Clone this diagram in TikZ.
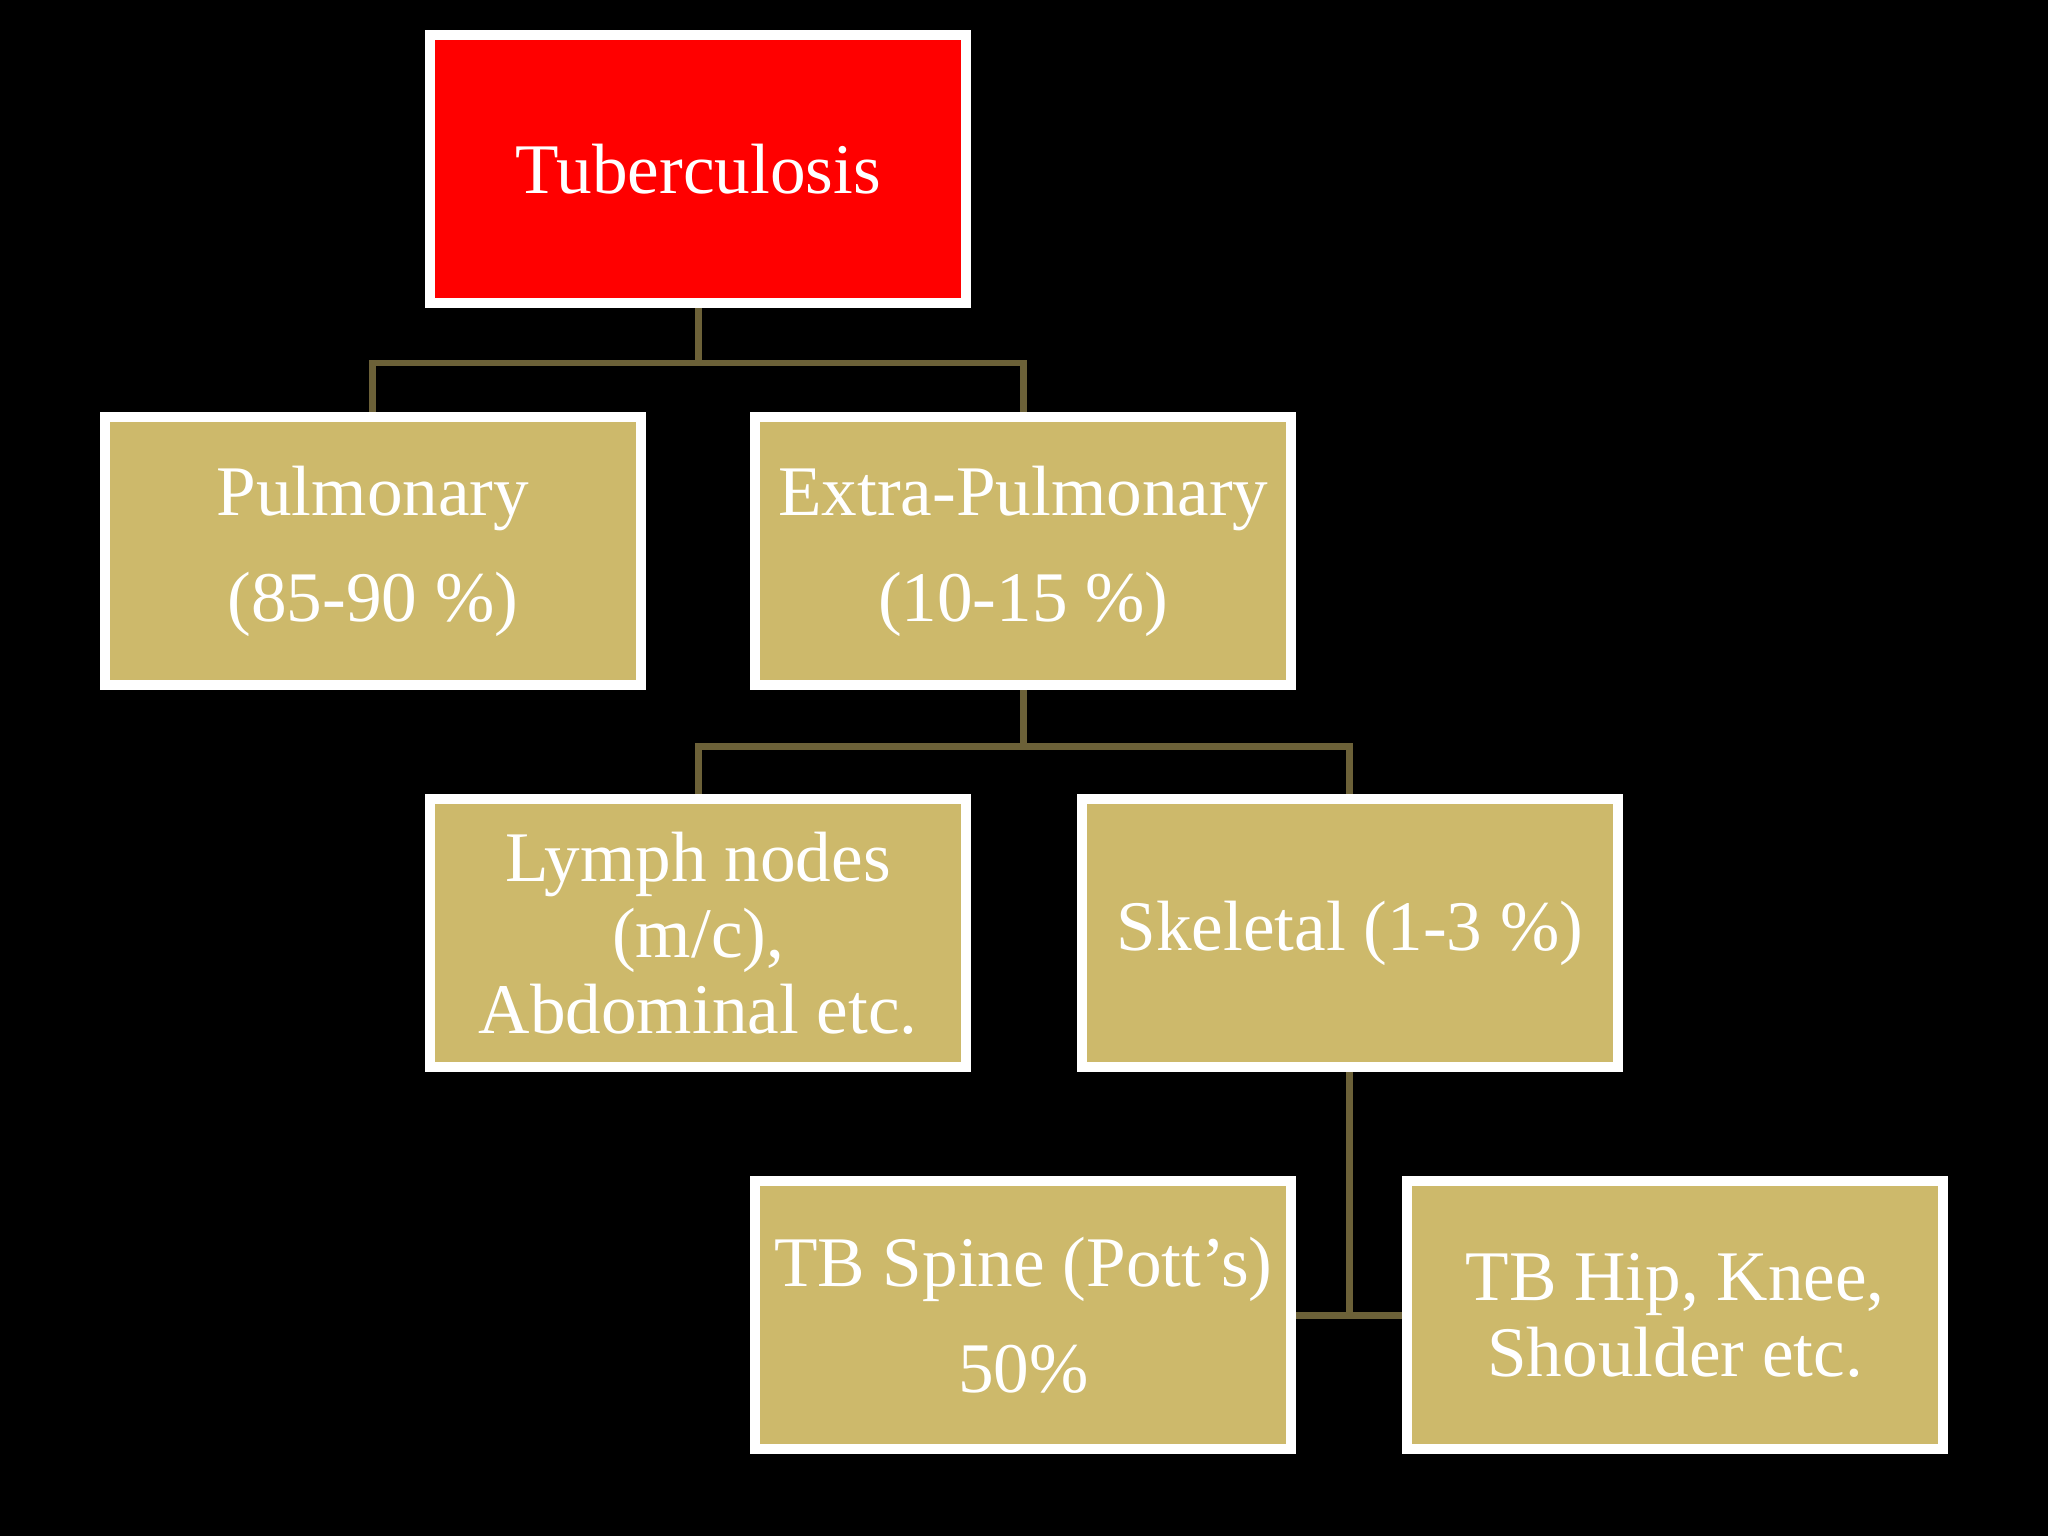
\documentclass[tikz,border=0pt]{standalone}
\usepackage{fontspec}
\setmainfont{Liberation Serif}
\begin{document}
\begin{tikzpicture}[x=0.01cm,y=-0.01cm,
 box/.style={draw=white,line width=2.2pt,fill=gold,minimum width=4.1cm,minimum height=2.05cm,inner sep=0pt,text=white,align=center,font=\fontsize{15.5pt}{23pt}\selectfont},
 tight/.style={font=\fontsize{15.5pt}{16.5pt}\selectfont},
 conn/.style={draw=olive!70!black,line width=1.5pt}]
\definecolor{gold}{HTML}{CDB96B}
\colorlet{olive}{gold!75!black}
\fill[black] (0,0) rectangle (1568,1176);
\useasboundingbox (0,0) rectangle (1568,1176);
\node[box,fill=red] (tb) at (534.5,129.5) {Tuberculosis};
\node[box] (pul) at (285.5,422) {Pulmonary\\(85-90 \%)};
\node[box] (ext) at (783.5,422) {Extra-Pulmonary\\(10-15 \%)};
\node[box,tight] (lym) at (534.5,714.5) {Lymph nodes\\(m/c),\\Abdominal etc.};
\node[box] (ske) at (1033.5,714.5) {Skeletal (1-3 \%)};
\node[box] (spi) at (783.5,1007) {TB Spine (Pott’s)\\50\%};
\node[box,tight] (hip) at (1282.5,1007) {TB Hip, Knee,\\Shoulder etc.};
\draw[conn] (tb.south) -- ++(0,42) -| (pul.north);
\draw[conn] (tb.south) -- ++(0,42) -| (ext.north);
\draw[conn] (ext.south) -- ++(0,43) -| (lym.north);
\draw[conn] (ext.south) -- ++(0,43) -| (ske.north);
\draw[conn] (ske.south) |- (spi.east);
\draw[conn] (ske.south) |- (hip.west);
\end{tikzpicture}
\end{document}
